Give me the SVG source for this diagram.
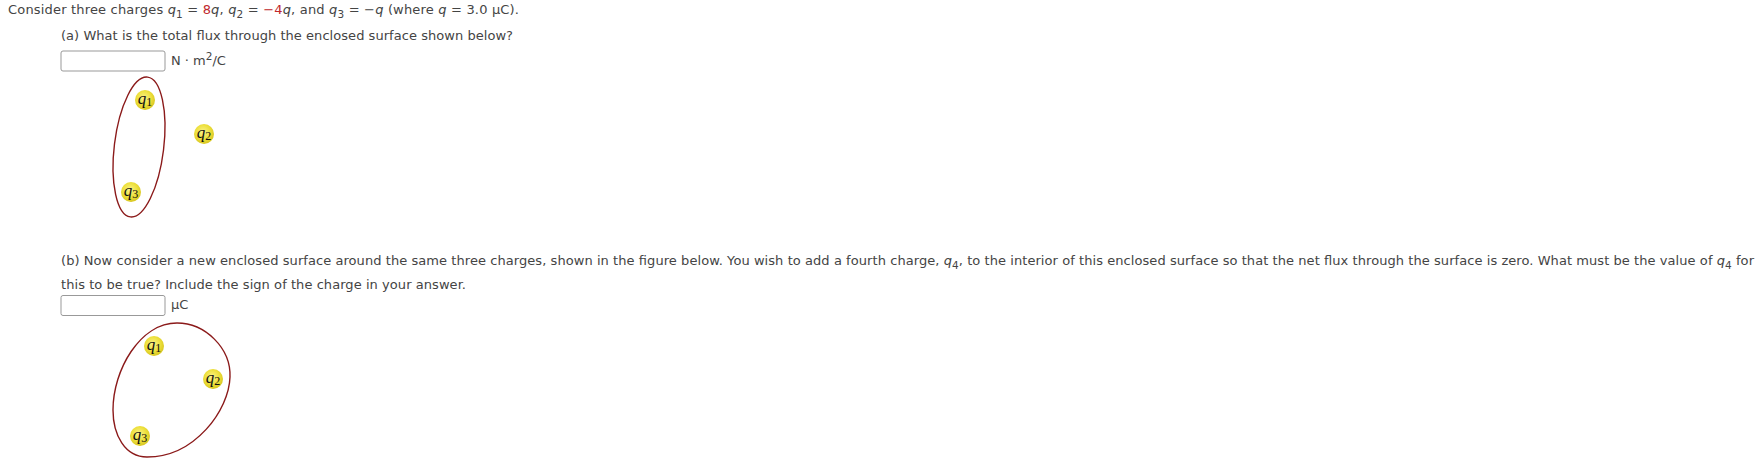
<svg xmlns="http://www.w3.org/2000/svg" width="1762" height="468" viewBox="0 0 1762 468">
<style>
.t{font-family:"DejaVu Sans","Verdana",sans-serif;font-size:13px;fill:#444}
.qi{font-style:italic}
.sub{font-size:10.5px}
.red{fill:#c0282d}
.box{fill:#fff;stroke:#999;stroke-width:1}
.surf{fill:none;stroke:#8b1a1a;stroke-width:1.4}
.chg{fill:url(#yg)}
.lbl{font-family:"Liberation Serif","Times New Roman",serif;font-size:17px;fill:#111;text-anchor:middle}
.lbl .n{font-style:normal;font-size:12px}
</style>
<defs>
<radialGradient id="yg" cx="45%" cy="40%" r="60%">
<stop offset="0" stop-color="#fbf38a"/>
<stop offset="0.6" stop-color="#ede03c"/>
<stop offset="1" stop-color="#d8c620"/>
</radialGradient>
</defs>
<g id="header">
<text class="t" x="8" y="14" textLength="511" lengthAdjust="spacing">Consider three charges <tspan class="qi">q</tspan><tspan class="sub" dy="4">1</tspan><tspan dy="-4"> = </tspan><tspan class="red">8</tspan><tspan class="qi">q</tspan>, <tspan class="qi">q</tspan><tspan class="sub" dy="4">2</tspan><tspan dy="-4"> = </tspan><tspan class="red">−4</tspan><tspan class="qi">q</tspan>, and <tspan class="qi">q</tspan><tspan class="sub" dy="4">3</tspan><tspan dy="-4"> = −</tspan><tspan class="qi">q</tspan> (where <tspan class="qi">q</tspan> = 3.0 μC).</text>
</g>
<g id="part-a">
<text class="t" x="61" y="40" textLength="452" lengthAdjust="spacing">(a) What is the total flux through the enclosed surface shown below?</text>
<rect class="box" x="61" y="51" width="104" height="20" rx="2"/>
<text class="t" x="171" y="65">N · m<tspan class="sub" dy="-5">2</tspan><tspan dy="5">/C</tspan></text>
</g>
<g id="surface-a">
<ellipse class="surf" cx="139" cy="147" rx="24.7" ry="70.4" transform="rotate(7 139 147)"/>
</g>
<g id="q1-a"><circle class="chg" cx="145" cy="100" r="10"/><text class="lbl" x="145" y="104"><tspan font-style="italic">q</tspan><tspan class="n" dy="2">1</tspan></text></g>
<g id="q2-a"><circle class="chg" cx="204" cy="134" r="10"/><text class="lbl" x="204" y="138"><tspan font-style="italic">q</tspan><tspan class="n" dy="2">2</tspan></text></g>
<g id="q3-a"><circle class="chg" cx="131" cy="192" r="10"/><text class="lbl" x="131" y="196"><tspan font-style="italic">q</tspan><tspan class="n" dy="2">3</tspan></text></g>
<g id="part-b">
<text class="t" x="61" y="265" textLength="1693" lengthAdjust="spacing">(b) Now consider a new enclosed surface around the same three charges, shown in the figure below. You wish to add a fourth charge, <tspan class="qi">q</tspan><tspan class="sub" dy="4">4</tspan><tspan dy="-4">, to the interior of this enclosed surface so that the net flux through the surface is zero. What must be the value of </tspan><tspan class="qi">q</tspan><tspan class="sub" dy="4">4</tspan><tspan dy="-4"> for</tspan></text>
<text class="t" x="61" y="289" textLength="405" lengthAdjust="spacing">this to be true? Include the sign of the charge in your answer.</text>
<rect class="box" x="61" y="295.5" width="104" height="20" rx="2"/>
<text class="t" x="171" y="309">μC</text>
</g>
<g id="surface-b">
<path class="surf" d="M177,323 C205,323 231,348 230,377 C229,410 195,457 147,457 C125,457 113,435 113,410 C113,370 140,323 177,323 Z"/>
</g>
<g id="q1-b"><circle class="chg" cx="154" cy="346" r="10"/><text class="lbl" x="154" y="350"><tspan font-style="italic">q</tspan><tspan class="n" dy="2">1</tspan></text></g>
<g id="q2-b"><circle class="chg" cx="213" cy="379" r="10"/><text class="lbl" x="213" y="383"><tspan font-style="italic">q</tspan><tspan class="n" dy="2">2</tspan></text></g>
<g id="q3-b"><circle class="chg" cx="140" cy="436" r="10"/><text class="lbl" x="140" y="440"><tspan font-style="italic">q</tspan><tspan class="n" dy="2">3</tspan></text></g>
</svg>
